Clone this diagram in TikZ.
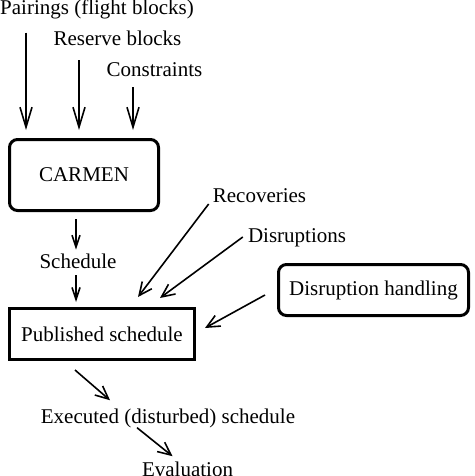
\documentclass[tikz,border=0pt]{standalone}
\usepackage{fontspec}
\setmainfont{Liberation Serif}
\usetikzlibrary{arrows.meta}

\tikzset{
    txt/.style={font=\fontsize{21}{25}\selectfont},
    lbl/.style={txt, inner sep=0pt, anchor=base},
    rbox/.style={txt, draw, line width=3pt, rounded corners=8pt, inner sep=0pt},
    sbox/.style={txt, draw, line width=3pt, inner sep=0pt},
    inarr/.style={line width=1.6pt, -{Straight Barb[length=20pt,width=12pt]}},
    smarr/.style={line width=1.6pt, -{Straight Barb[length=12pt,width=8pt]}},
    dgarr/.style={line width=1.6pt, -{Straight Barb[length=13pt,width=12pt]}}
}

\begin{document}
\begin{tikzpicture}[x=1pt,y=-1pt]
        \useasboundingbox (0,0) rectangle (474,476);
        % inputs
        \node[lbl] (pair) at (97,15) {Pairings (flight blocks)};
        \node[lbl] (resv) at (117.5,46) {Reserve blocks};
        \node[lbl] (cons) at (154.5,77) {Constraints};
        \node[rbox, minimum width=149pt, minimum height=71pt] (carmen) at (84,175) {CARMEN};
        \draw[inarr, shorten <=13pt, shorten >=8pt] (pair.south -| 26,0) -- (carmen.north -| 26,0);
        \draw[inarr, shorten <=14pt, shorten >=8pt] (resv.south -| 79,0) -- (carmen.north -| 79,0);
        \draw[inarr, shorten <=10pt, shorten >=8pt] (cons.south -| 133,0) -- (carmen.north -| 133,0);
        % schedule
        \node[lbl] (sched) at (78,268) {Schedule};
        \node[sbox, minimum width=185pt, minimum height=51pt] (pub) at (102,334) {Published schedule};
        \draw[smarr, shorten <=7pt, shorten >=3.5pt] (carmen.south -| 76,0) -- (sched.north -| 76,0);
        \draw[smarr, shorten <=7pt, shorten >=5pt] (sched.south -| 76,0) -- (pub.north -| 76,0);
        % disturbances
        \node[lbl] (recov) at (259.5,202) {Recoveries};
        \node[lbl] (disr) at (297,242) {Disruptions};
        \node[rbox, minimum width=190pt, minimum height=51pt] (handl) at (373.5,290) {Disruption handling};
        \draw[dgarr] ([xshift=-4pt,yshift=-2pt]recov.base west) -- ([xshift=36pt,yshift=10pt]pub.north);
        \draw[dgarr] ([xshift=-5pt,yshift=5pt]disr.base west) -- ([xshift=58pt,yshift=9pt]pub.north);
        \draw[dgarr] ([xshift=-12pt,yshift=-5pt]handl.west) -- ([xshift=9pt,yshift=6pt]pub.east);
        % outcome
        \node[lbl] (exec) at (168,423) {Executed (disturbed) schedule};
        \node[lbl] (evalu) at (187.5,476) {Evaluation};
        \draw[dgarr] ([xshift=-27pt,yshift=-9pt]pub.south) -- ([xshift=-58pt,yshift=8pt]exec.north);
        \draw[dgarr] ([xshift=-31pt]exec.south) -- ([xshift=-15pt,yshift=5pt]evalu.north);
    \end{tikzpicture}
\end{document}
